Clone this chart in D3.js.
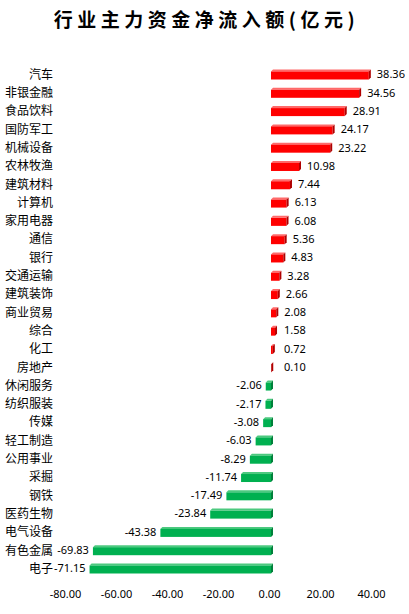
<!DOCTYPE html>
<html>
<head>
<meta charset="utf-8">
<script src="https://cdnjs.cloudflare.com/ajax/libs/d3/7.8.5/d3.min.js"></script>
<style>
body { margin: 0; background: #fff; }
</style>
</head>
<body>
<script>
var w = 409, h = 614;

var industries = ["汽车","非银金融","食品饮料","国防军工","机械设备","农林牧渔","建筑材料","计算机","家用电器","通信","银行","交通运输","建筑装饰","商业贸易","综合","化工","房地产","休闲服务","纺织服装","传媒","轻工制造","公用事业","采掘","钢铁","医药生物","电气设备","有色金属","电子"];
var flows = [38.36,34.56,28.91,24.17,23.22,10.98,7.44,6.13,6.08,5.36,4.83,3.28,2.66,2.08,1.58,0.72,0.10,-2.06,-2.17,-3.08,-6.03,-8.29,-11.74,-17.49,-23.84,-43.38,-69.83,-71.15];
var xTicks = [-80,-60,-40,-20,0,20,40];

var data = industries.map(function(d, i){
    return { name: d, value: flows[i] };
});

var svg = d3.select("body")
    .append("svg")
    .attr("width", w)
    .attr("height", h);

svg.append("text")
    .attr("x", w/2 + 2)
    .attr("y", 27)
    .attr("text-anchor", "middle")
    .style("font-family", "'Noto Sans CJK SC'")
    .style("font-weight", "bold")
    .style("font-size", "19px")
    .style("letter-spacing", "4.5px")
    .text("行业主力资金净流入额(亿元)");

var x = d3.scaleLinear()
    .domain([-80, 40])
    .range([67, 373]);

// row centres
var y = d3.scalePoint()
    .domain(industries)
    .range([74.5, 568.5]);

var d = 2, bh = 10;

var bars = svg.selectAll(".bar")
    .data(data)
    .enter()
    .append("g")
    .attr("class", "bar");

// top face
bars.append("polygon")
    .attr("points", function(e){
        var x0 = Math.min(x(0), x(e.value)), x1 = Math.max(x(0), x(e.value));
        var t = y(e.name) - bh/2;
        return [[x0, t+d],[x0+d, t],[x1+d, t],[x1, t+d]].join(" ");
    })
    .style("fill", function(e){ return e.value >= 0 ? "#ff6a6a" : "#4cc97f"; });

// front face
bars.append("rect")
    .attr("x", function(e){ return Math.min(x(0), x(e.value)); })
    .attr("y", function(e){ return y(e.name) - bh/2 + d; })
    .attr("width", function(e){ return Math.abs(x(e.value) - x(0)); })
    .attr("height", bh - d)
    .style("fill", function(e){ return e.value >= 0 ? "#ff0000" : "#00b050"; });

// right side face
bars.append("polygon")
    .attr("points", function(e){
        var x1 = Math.max(x(0), x(e.value));
        var t = y(e.name) - bh/2;
        return [[x1, t+d],[x1+d, t],[x1+d, t+bh-d],[x1, t+bh]].join(" ");
    })
    .style("fill", function(e){ return e.value >= 0 ? "#b00000" : "#00803a"; });

// value labels
svg.selectAll(".val")
    .data(data)
    .enter()
    .append("text")
    .attr("class", "val")
    .attr("x", function(e){
        if (e.value >= 0) return Math.max(x(e.value) + d + 6, x(0) + 13);
        return x(e.value) - 4;
    })
    .attr("y", function(e){ return y(e.name); })
    .attr("dy", "0.35em")
    .attr("text-anchor", function(e){ return e.value >= 0 ? "start" : "end"; })
    .style("font-family", "'Noto Sans'")
    .style("font-size", "11px")
    .text(function(e){ return e.value.toFixed(2); });

// category labels
svg.selectAll(".cat")
    .data(data)
    .enter()
    .append("text")
    .attr("class", "cat")
    .attr("x", 53)
    .attr("y", function(e){ return y(e.name); })
    .attr("dy", "0.36em")
    .attr("text-anchor", "end")
    .style("font-family", "'Noto Sans CJK SC'")
    .style("font-size", "12px")
    .text(function(e){ return e.name; });

var xAxis = d3.axisBottom(x)
    .tickValues(xTicks)
    .tickSize(0)
    .tickPadding(0)
    .tickFormat(function(v){ return v.toFixed(2); });

var axis = svg.append("g")
    .attr("class", "axis")
    .attr("transform", "translate(-2, 590)")
    .call(xAxis);

axis.select(".domain").remove();
axis.selectAll("text")
    .style("font-family", "'Noto Sans'")
    .style("font-size", "11px")
    .style("fill", "#000");
</script>
</body>
</html>
